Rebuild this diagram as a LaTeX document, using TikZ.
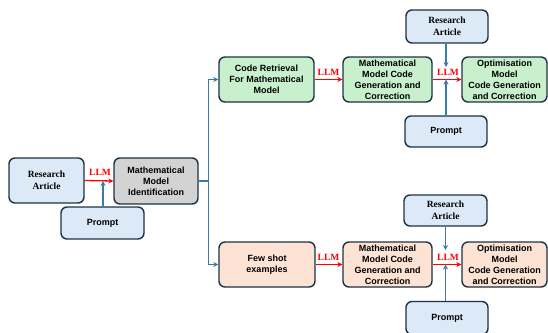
\documentclass[tikz,border=0pt]{standalone}
\usepackage{fontspec}
\setmainfont{Liberation Serif}
\setsansfont{Liberation Sans}
\usepackage{tikz}
\usetikzlibrary{arrows.meta}
\usetikzlibrary{positioning}

\definecolor{boxline}{HTML}{1D3343}
\definecolor{bluefill}{HTML}{DCE9F6}
\definecolor{greenfill}{HTML}{C8F0CD}
\definecolor{peachfill}{HTML}{FCE3D4}
\definecolor{greyfill}{HTML}{D3D3D3}
\definecolor{connblue}{HTML}{3B7CA3}

\tikzset{
  blk/.style={draw=boxline, line width=1.4pt, rounded corners=6pt, align=center,
    inner sep=0pt, font=\sffamily\bfseries\fontsize{9}{11}\selectfont},
  src/.style={blk, fill=bluefill, font=\rmfamily\bfseries\fontsize{9.5}{12}\selectfont},
  prm/.style={blk, fill=bluefill},
  llmarrow/.style={draw=red, line width=1.3pt, -{Stealth[length=5pt,width=5pt]}},
  llm/.style={text=red, font=\rmfamily\bfseries\fontsize{9.5}{11}\selectfont, inner sep=1pt},
  feed/.style={draw=connblue, line width=1.2pt, -{Stealth[length=5pt,width=5pt]}},
  link/.style={draw=connblue, line width=1.2pt}
}

\begin{document}
\begin{tikzpicture}[x=1pt,y=-1pt]
  \useasboundingbox (0,0) rectangle (548,332);

  % left part
  \node[src, minimum width=75pt, minimum height=45pt] (ra1) at (46.5,180.5) {Research\\Article};
  \node[prm, minimum width=83pt, minimum height=32pt] (pr1) at (102.5,223) {Prompt};
  \node[blk, fill=greyfill, minimum width=84pt, minimum height=46pt] (mmi) at (156,181) {Mathematical\\Model\\Identification};
  \draw[llmarrow] (ra1.east) -- (mmi.west);
  \node[llm] (llm1) at (100,172) {LLM};
  \coordinate (j1) at (103,181);
  \draw[feed] (pr1.north -| j1) -- (j1);

  % split
  \draw[link] (mmi.east) -- ++(10,0) coordinate (split);

  % upper branch
  \node[blk, fill=greenfill, minimum width=95pt, minimum height=45pt] (crm) at (266.5,79.5) {Code Retrieval\\For Mathematical\\Model};
  \node[blk, fill=greenfill, minimum width=89pt, minimum height=45pt] (mcg1) at (387.5,79.5) {Mathematical\\Model Code\\Generation and\\Correction};
  \node[blk, fill=greenfill, minimum width=85pt, minimum height=45pt] (ocg1) at (504.5,79.5) {Optimisation\\Model\\Code Generation\\and Correction};
  \node[src, minimum width=82pt, minimum height=33pt] (ra2) at (447,26.5) {Research\\Article};
  \node[prm, minimum width=82pt, minimum height=31pt] (pr2) at (446,131.5) {Prompt};
  \draw[feed] (split) |- (crm.west);
  \draw[llmarrow] (crm.east) -- (mcg1.west);
  \draw[llmarrow] (mcg1.east) -- (ocg1.west);
  \node[llm] (llm2) at (328.5,72) {LLM};
  \node[llm] (llm3) at (448,72) {LLM};
  \coordinate (j2) at (446,79.5);
  \coordinate (t2) at (446,67);
  \draw[feed] (ra2.south -| t2) -- (t2);
  \draw[feed] (pr2.north -| j2) -- (j2);

  % lower branch
  \node[blk, fill=peachfill, minimum width=96pt, minimum height=45pt] (few) at (267,264.5) {Few shot\\examples};
  \node[blk, fill=peachfill, minimum width=89pt, minimum height=45pt] (mcg2) at (387.5,264.5) {Mathematical\\Model Code\\Generation and\\Correction};
  \node[blk, fill=peachfill, minimum width=85pt, minimum height=45pt] (ocg2) at (504.5,264.5) {Optimisation\\Model\\Code Generation\\and Correction};
  \node[src, minimum width=83pt, minimum height=31pt] (ra3) at (445.5,210.5) {Research\\Article};
  \node[prm, minimum width=82pt, minimum height=33pt] (pr3) at (447,318) {Prompt};
  \draw[feed] (split) |- (few.west);
  \draw[llmarrow] (few.east) -- (mcg2.west);
  \draw[llmarrow] (mcg2.east) -- (ocg2.west);
  \node[llm] (llm4) at (328.5,257) {LLM};
  \node[llm] (llm5) at (448,257) {LLM};
  \coordinate (j3) at (445.5,264.5);
  \coordinate (t3) at (445.5,250);
  \draw[feed] (ra3.south -| t3) -- (t3);
  \draw[feed] (pr3.north -| j3) -- (j3);
\end{tikzpicture}
\end{document}
